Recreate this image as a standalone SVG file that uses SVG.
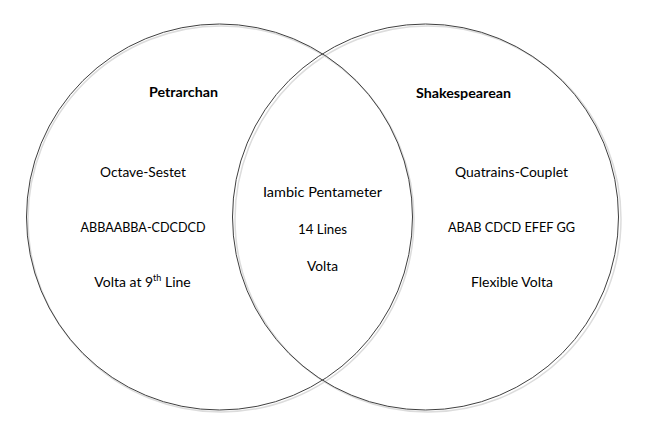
<svg xmlns="http://www.w3.org/2000/svg" width="645" height="427" viewBox="0 0 645 427">
<style>
.shadow{fill:none;stroke:#dcdcdc;stroke-width:1.5}
.ring{fill:none;stroke:#404040;stroke-width:1}
text{font-family:Lato,"Open Sans","Liberation Sans",sans-serif;font-size:14px;fill:#000;text-anchor:middle}
.head{font-weight:bold}
.sup{font-size:9px}
</style>
<rect width="645" height="427" fill="#fff"/>
<g id="shadows">
<circle class="shadow" cx="221" cy="219" r="193"/>
<circle class="shadow" cx="428" cy="219" r="193"/>
</g>
<g id="petrarchan">
<circle class="ring" cx="219.5" cy="217" r="193"/>
<text class="head" x="183.5" y="97" textLength="69" lengthAdjust="spacingAndGlyphs">Petrarchan</text>
<text x="143" y="177" textLength="86" lengthAdjust="spacingAndGlyphs">Octave-Sestet</text>
<text x="143" y="232" textLength="125" lengthAdjust="spacingAndGlyphs">ABBAABBA-CDCDCD</text>
<text x="142.5" y="287">Volta at 9<tspan class="sup" dy="-6">th</tspan><tspan dy="6"> Line</tspan></text>
</g>
<g id="shakespearean">
<circle class="ring" cx="425.5" cy="217" r="193"/>
<text class="head" x="463.5" y="98" textLength="95" lengthAdjust="spacingAndGlyphs">Shakespearean</text>
<text x="511.5" y="177" textLength="113" lengthAdjust="spacingAndGlyphs">Quatrains-Couplet</text>
<text x="511.5" y="232" textLength="127" lengthAdjust="spacingAndGlyphs">ABAB CDCD EFEF GG</text>
<text x="512" y="287" textLength="82" lengthAdjust="spacingAndGlyphs">Flexible Volta</text>
</g>
<g id="common">
<text x="322.5" y="197" textLength="119" lengthAdjust="spacingAndGlyphs">Iambic Pentameter</text>
<text x="322.5" y="234" textLength="49" lengthAdjust="spacingAndGlyphs">14 Lines</text>
<text x="322.5" y="271" textLength="31" lengthAdjust="spacingAndGlyphs">Volta</text>
</g>
</svg>
